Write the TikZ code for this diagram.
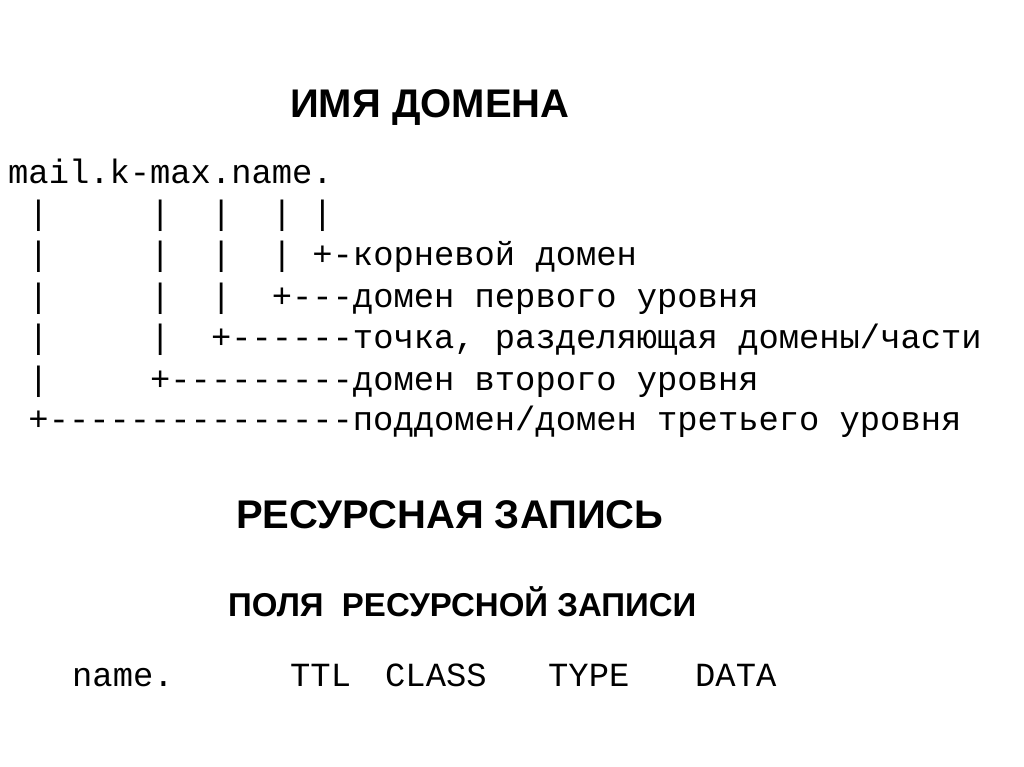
\documentclass[tikz,border=0pt]{standalone}
\usepackage{fontspec}
\setmainfont{Liberation Sans}
\setmonofont{Liberation Mono}
\begin{document}
\begin{tikzpicture}[x=1pt,y=-1pt,
  mono/.style={anchor=base west,inner sep=0pt,font=\ttfamily\fontsize{33.8}{36}\selectfont},
  head/.style={anchor=base west,inner sep=0pt,font=\bfseries\fontsize{40}{44}\selectfont},
  sub/.style={anchor=base west,inner sep=0pt,font=\bfseries\fontsize{33}{36}\selectfont}]
\useasboundingbox[fill=white] (0,0) rectangle (1024,767);
\node[head] (h1) at (290,118) {ИМЯ ДОМЕНА};
\node[mono] (l1) at (8,184) {mail.k-max.name.};
\node[mono] (l2) at (8,225) {~|~~~~~|~~|~~|~|};
\node[mono] (l3) at (8,265) {~|~~~~~|~~|~~|~+-корневой домен};
\node[mono] (l4) at (8,307) {~|~~~~~|~~|~~+---домен первого уровня};
\node[mono] (l5) at (8,348) {~|~~~~~|~~+------точка, разделяющая домены/части};
\node[mono] (l6) at (8,390) {~|~~~~~+---------домен второго уровня};
\node[mono] (l7) at (8,430) {~+---------------поддомен/домен третьего уровня};
\node[head] (h2) at (236,528) {РЕСУРСНАЯ ЗАПИСЬ};
\node[sub] (h3) at (228,616) {ПОЛЯ~~РЕСУРСНОЙ ЗАПИСИ};
\node[mono] (f1) at (72,686) {name.};
\node[mono] (f2) at (290,686) {TTL};
\node[mono] (f3) at (385,686) {CLASS};
\node[mono] (f4) at (548,686) {TYPE};
\node[mono] (f5) at (695,686) {DATA};
\end{tikzpicture}
\end{document}
